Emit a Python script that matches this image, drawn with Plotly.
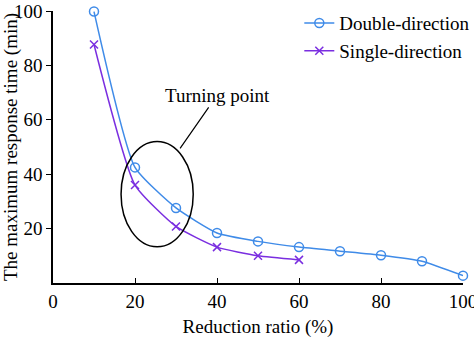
import plotly.graph_objects as go

ratio_double = [10, 20, 30, 40, 50, 60, 70, 80, 90, 100]
time_double = [99.8, 42.5, 27.6, 18.4, 15.3, 13.2, 11.7, 10.2, 8.0, 2.7]
ratio_single = [10, 20, 30, 40, 50, 60]
time_single = [87.7, 36.0, 20.8, 13.2, 10.0, 8.5]

x_ticks = [0, 20, 40, 60, 80, 100]
y_ticks = [20, 40, 60, 80, 100]

FONT = "'Times New Roman', 'Liberation Serif', serif"
BLUE = "#3f8be8"
PURPLE = "#7a2ee0"

fig = go.Figure()
fig.add_trace(go.Scatter(
    x=ratio_double, y=time_double, name="Double-direction", cliponaxis=False,
    mode="lines+markers", line=dict(color=BLUE, width=1.5, shape="spline", smoothing=0.5),
    marker=dict(symbol="circle-open", size=9, color=BLUE, line=dict(width=1.5)),
))
fig.add_trace(go.Scatter(
    x=ratio_single, y=time_single, name="Single-direction", cliponaxis=False,
    mode="lines+markers", line=dict(color=PURPLE, width=1.5, shape="spline", smoothing=0.5),
    marker=dict(symbol="x-thin-open", size=8, color=PURPLE, line=dict(width=1.5, color=PURPLE)),
))

fig.add_shape(type="circle", xref="x", yref="y", x0=16.6, x1=34.2, y0=13.3, y1=52,
              line=dict(color="black", width=1.5))
fig.add_annotation(x=31, y=49.5, ax=40, ay=69, xref="x", yref="y", axref="x", ayref="y",
                   text="Turning point", showarrow=True, arrowhead=0, arrowwidth=1.2,
                   arrowcolor="black", font=dict(family=FONT, size=19, color="black"))

fig.update_layout(
    width=474, height=338,
    margin=dict(l=53, r=11, t=11, b=55, autoexpand=False),
    paper_bgcolor="white", plot_bgcolor="white",
    font=dict(family=FONT, size=19, color="black"),
    showlegend=True,
    legend=dict(x=1.03, y=1.025, xanchor="right", yanchor="top", bgcolor="rgba(0,0,0,0)",
                itemwidth=30, tracegroupgap=0, font=dict(family=FONT, size=19)),
)
fig.update_xaxes(range=[0, 100], tickvals=x_ticks, ticks="inside", ticklen=5,
                 showline=True, linecolor="black", linewidth=1.5, tickcolor="black",
                 showgrid=False, zeroline=False, automargin=False, ticklabeloverflow="allow",
                 title=dict(text="Reduction ratio (%)", font=dict(family=FONT, size=19), standoff=10))
fig.update_yaxes(range=[0, 100], tickvals=y_ticks, ticks="outside", ticklen=5,
                 showline=True, linecolor="black", linewidth=1.5, tickcolor="black",
                 showgrid=False, zeroline=False, automargin=False, ticklabeloverflow="allow",
                 title=dict(text="The maximum response time (min)", font=dict(family=FONT, size=19), standoff=4))

fig.write_html("out.html")
